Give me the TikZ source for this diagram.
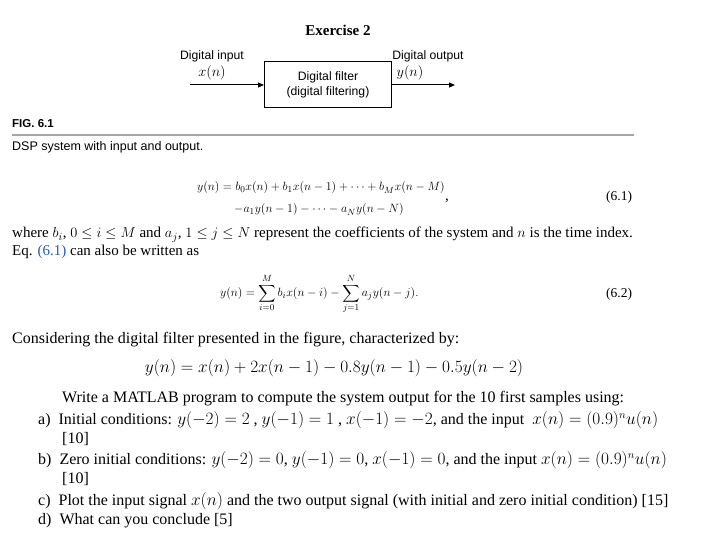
\documentclass[tikz,border=0pt]{standalone}
\usepackage{fontspec}
\usepackage{amsmath}
\setmainfont{Liberation Serif}
\newfontfamily\lsans{Liberation Sans}
\usetikzlibrary{arrows.meta}
\definecolor{refblue}{RGB}{40,90,190}
\tikzset{
  txt/.style={anchor=base west,inner sep=0pt,font=\fontsize{15}{17}\selectfont},
  big/.style={anchor=base west,inner sep=0pt,font=\fontsize{16}{18}\selectfont},
  lab/.style={inner sep=0pt,font=\lsans\fontsize{12.2}{14}\selectfont},
  arr/.style={-{Triangle[length=6pt,width=5pt]},line width=1pt},
}
\begin{document}
\begin{tikzpicture}[x=1pt,y=-1pt]
\useasboundingbox (0,0) rectangle (721,553);
\node[inner sep=0pt,font=\bfseries\fontsize{15}{17}\selectfont] (title) at (338,30) {Exercise 2};
\node[draw,line width=1pt,minimum width=127pt,minimum height=46pt,align=center,lab] (filt) at (328,85) {Digital filter\\[1pt](digital filtering)};
\coordinate (in) at (190,85);
\coordinate (out) at (455,85);
\draw[arr] (in) -- (filt.west);
\draw[arr] (filt.east) -- (out);
\node[lab] (di) at (212,56) {Digital input};
\node[inner sep=0pt,font=\fontsize{14}{15}\selectfont] (xn) at (212,73) {$x(n)$};
\node[lab] (do) at (428,56) {Digital output};
\node[inner sep=0pt,font=\fontsize{14}{15}\selectfont] (yn) at (410,73) {$y(n)$};
\node[lab,anchor=west,font=\lsans\bfseries\fontsize{11.5}{13}\selectfont] (fig) at (12,124) {FIG. 6.1};
\draw[gray!70,line width=1.2pt] (12,135) -- (634,135);
\node[lab,anchor=west,font=\lsans\fontsize{12.5}{14}\selectfont] (cap) at (12,147) {DSP system with input and output.};
\node[txt,font=\fontsize{12.2}{14}\selectfont] (e1a) at (197,191) {$y(n)=b_0x(n)+b_1x(n-1)+\cdots+b_Mx(n-M)$};
\node[txt,font=\fontsize{12.2}{14}\selectfont] (e1b) at (234,213) {$-a_1y(n-1)-\cdots-a_Ny(n-N)$};
\node[txt] (comma) at (445,201) {,};
\node[txt,font=\fontsize{13.5}{15}\selectfont] (n61) at (606,201) {(6.1)};
\node[txt] (w1) at (12,238) {where $b_i$, $0\le i\le M$ and $a_j$, $1\le j\le N$ represent the coefficients of the system and $n$ is the time index.};
\node[txt] (w2) at (12,256) {Eq. \textcolor{refblue}{(6.1)} can also be written as};
\node[txt,anchor=west,font=\fontsize{13}{15}\selectfont] (e2) at (220,294) {$y(n)=\displaystyle\sum_{i=0}^{M}b_ix(n-i)-\sum_{j=1}^{N}a_jy(n-j).$};
\node[txt,font=\fontsize{13.5}{15}\selectfont] (n62) at (606,298) {(6.2)};
\node[big] (c1) at (12,344) {Considering the digital filter presented in the figure, characterized by:};
\node[inner sep=0pt,font=\fontsize{17}{19}\selectfont] (eq) at (334,368) {$y(n)=x(n)+2x(n-1)-0.8y(n-1)-0.5y(n-2)$};
\node[big] (wr) at (62,403) {Write a MATLAB program to compute the system output for the 10 first samples using:};
\node[big] (a) at (38,425) {a)\ \ Initial conditions: $y(-2)=2$ , $y(-1)=1$ , $x(-1)=-2$, and the input \ $x(n)=(0.9)^nu(n)$};
\node[big] (a2) at (62,444) {[10]};
\node[big] (b) at (38,465) {b)\ \ Zero initial conditions: $y(-2)=0$, $y(-1)=0$, $x(-1)=0$, and the input $x(n)=(0.9)^nu(n)$};
\node[big] (b2) at (62,484) {[10]};
\node[big] (c) at (38,505) {c)\ \ Plot the input signal $x(n)$ and the two output signal (with initial and zero initial condition) [15]};
\node[big] (d) at (38,525) {d)\ \ What can you conclude [5]};
\end{tikzpicture}
\end{document}
